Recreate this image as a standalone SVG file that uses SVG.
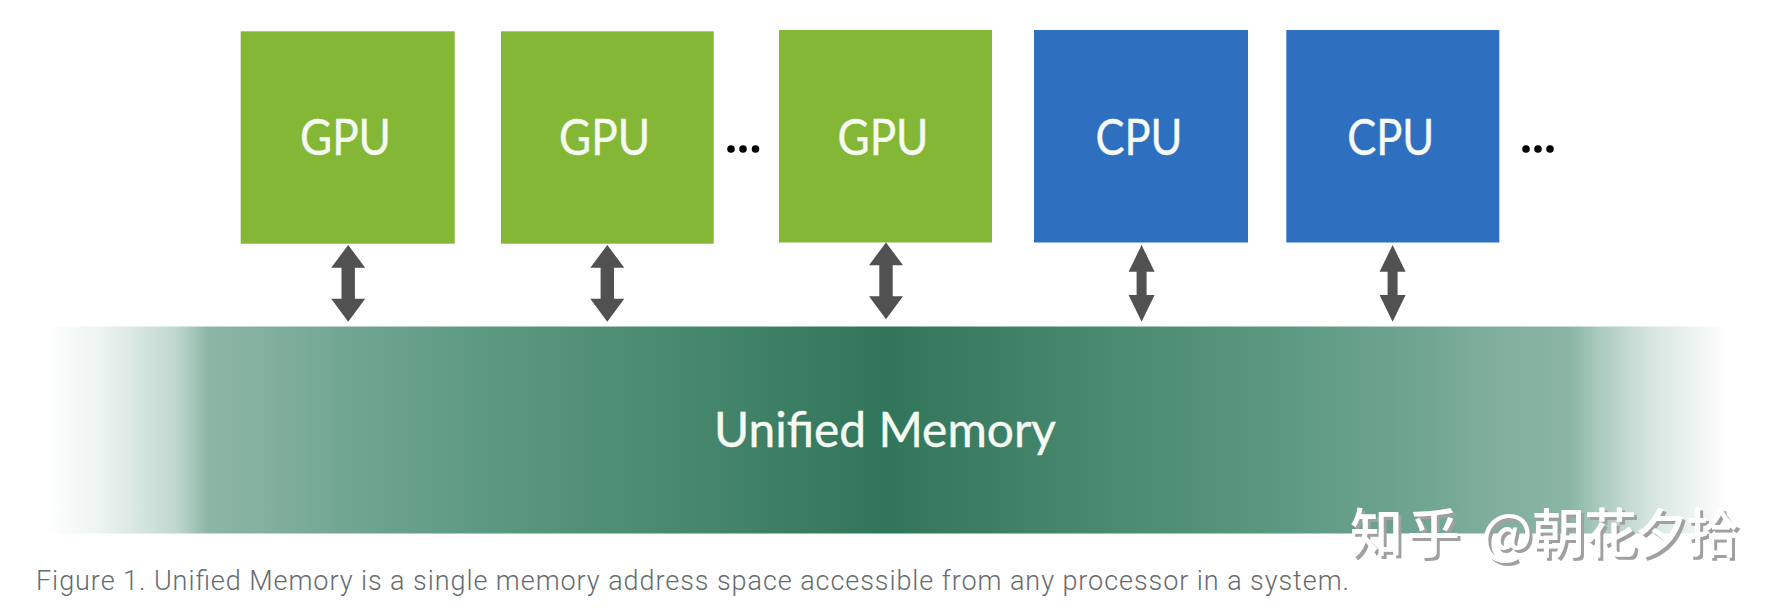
<svg xmlns="http://www.w3.org/2000/svg" width="1786" height="608" viewBox="0 0 1786 608">
<style>
.g{fill:#85b737}.c{fill:#2f6fc0}
.l{font-family:"Lato","Noto Sans",sans-serif;fill:#f6fbf2;text-anchor:middle;stroke:#f6fbf2;stroke-width:.4px}
.n{font-size:50px}
.a{fill:#515151}.d{fill:#000}
.cap{font-family:"Roboto","Liberation Sans",sans-serif;font-size:27px;fill:#666b6f}
.wm{font-family:"Noto Sans CJK SC","Noto Sans",sans-serif;font-size:53px;font-weight:500;fill:#fff}
</style>
<defs>
<linearGradient id="mem" gradientUnits="userSpaceOnUse" x1="40" y1="0" x2="1735" y2="0">
<stop offset="0.003" stop-color="#fff"/>
<stop offset="0.035" stop-color="#edf4f1"/>
<stop offset="0.053" stop-color="#dce9e5"/>
<stop offset="0.08" stop-color="#c0d8cf"/>
<stop offset="0.088" stop-color="#accbc0"/>
<stop offset="0.099" stop-color="#8cb6a6"/>
<stop offset="0.142" stop-color="#80ae9d"/>
<stop offset="0.183" stop-color="#70a592"/>
<stop offset="0.271" stop-color="#5a9880"/>
<stop offset="0.354" stop-color="#4c8c72"/>
<stop offset="0.499" stop-color="#31755a"/>
<stop offset="0.644" stop-color="#4c8c72"/>
<stop offset="0.727" stop-color="#5a9880"/>
<stop offset="0.815" stop-color="#70a592"/>
<stop offset="0.856" stop-color="#80ae9d"/>
<stop offset="0.902" stop-color="#8ab5a5"/>
<stop offset="0.922" stop-color="#aeccc1"/>
<stop offset="0.952" stop-color="#d8e6e1"/>
<stop offset="0.996" stop-color="#fff"/>
</linearGradient>
<path id="ga" class="a" d="M0 0L17 22.700H6.700V53.700H17L0 76.700L-17 53.700H-6.700V22.700H-17Z"/>
<path id="ca" class="a" d="M0 0L13 26.700H5V50H13L0 76.700L-13 50H-5V26.700H-13Z"/>
<filter id="sh" x="-5%" y="-10%" width="110%" height="120%"><feDropShadow dx="3" dy="3" stdDeviation="0.4" flood-color="#a0a0a0"/></filter>
</defs>
<rect width="1786" height="608" fill="#fff"/>
<g id="memory"><rect x="40" y="326.500" width="1695" height="207" fill="url(#mem)"/>
<text class="l" x="885" y="447" font-size="48" textLength="342" lengthAdjust="spacingAndGlyphs">Unified Memory</text></g>
<g id="gpu1"><rect class="g" x="240.700" y="31.300" width="214" height="212.400"/><text class="l n" x="345.500" y="155" textLength="91" lengthAdjust="spacingAndGlyphs">GPU</text></g>
<g id="gpu2"><rect class="g" x="501" y="31.300" width="212.700" height="212.400"/><text class="l n" x="604.600" y="155" textLength="91" lengthAdjust="spacingAndGlyphs">GPU</text></g>
<g id="gpu3"><rect class="g" x="779" y="30" width="213" height="212.500"/><text class="l n" x="883" y="155" textLength="91" lengthAdjust="spacingAndGlyphs">GPU</text></g>
<g id="cpu1"><rect class="c" x="1034" y="30" width="214" height="212.500"/><text class="l n" x="1139" y="155" textLength="87" lengthAdjust="spacingAndGlyphs">CPU</text></g>
<g id="cpu2"><rect class="c" x="1286.300" y="30" width="213" height="212.500"/><text class="l n" x="1390.700" y="155" textLength="87" lengthAdjust="spacingAndGlyphs">CPU</text></g>
<g id="ellipsis1"><circle class="d" cx="731" cy="149" r="3.800"/><circle class="d" cx="743" cy="149" r="3.800"/><circle class="d" cx="755.500" cy="149" r="3.800"/></g>
<g id="ellipsis2"><circle class="d" cx="1526" cy="149" r="3.800"/><circle class="d" cx="1538" cy="149" r="3.800"/><circle class="d" cx="1550" cy="149" r="3.800"/></g>
<g id="connectors">
<use href="#ga" x="348.200" y="245"/>
<use href="#ga" x="607.300" y="245"/>
<use href="#ga" x="886" y="242.500"/>
<use href="#ca" x="1141.600" y="245"/>
<use href="#ca" x="1392.600" y="245"/>
</g>
<text class="cap" x="36" y="589.500" font-weight="300" textLength="1313" lengthAdjust="spacing">Figure 1. Unified Memory is a single memory address space accessible from any processor in a system.</text>
<text class="wm" x="1350 1407 1460 1481 1532 1584 1635 1686" y="553" filter="url(#sh)">知乎 @朝花夕拾</text>
</svg>
